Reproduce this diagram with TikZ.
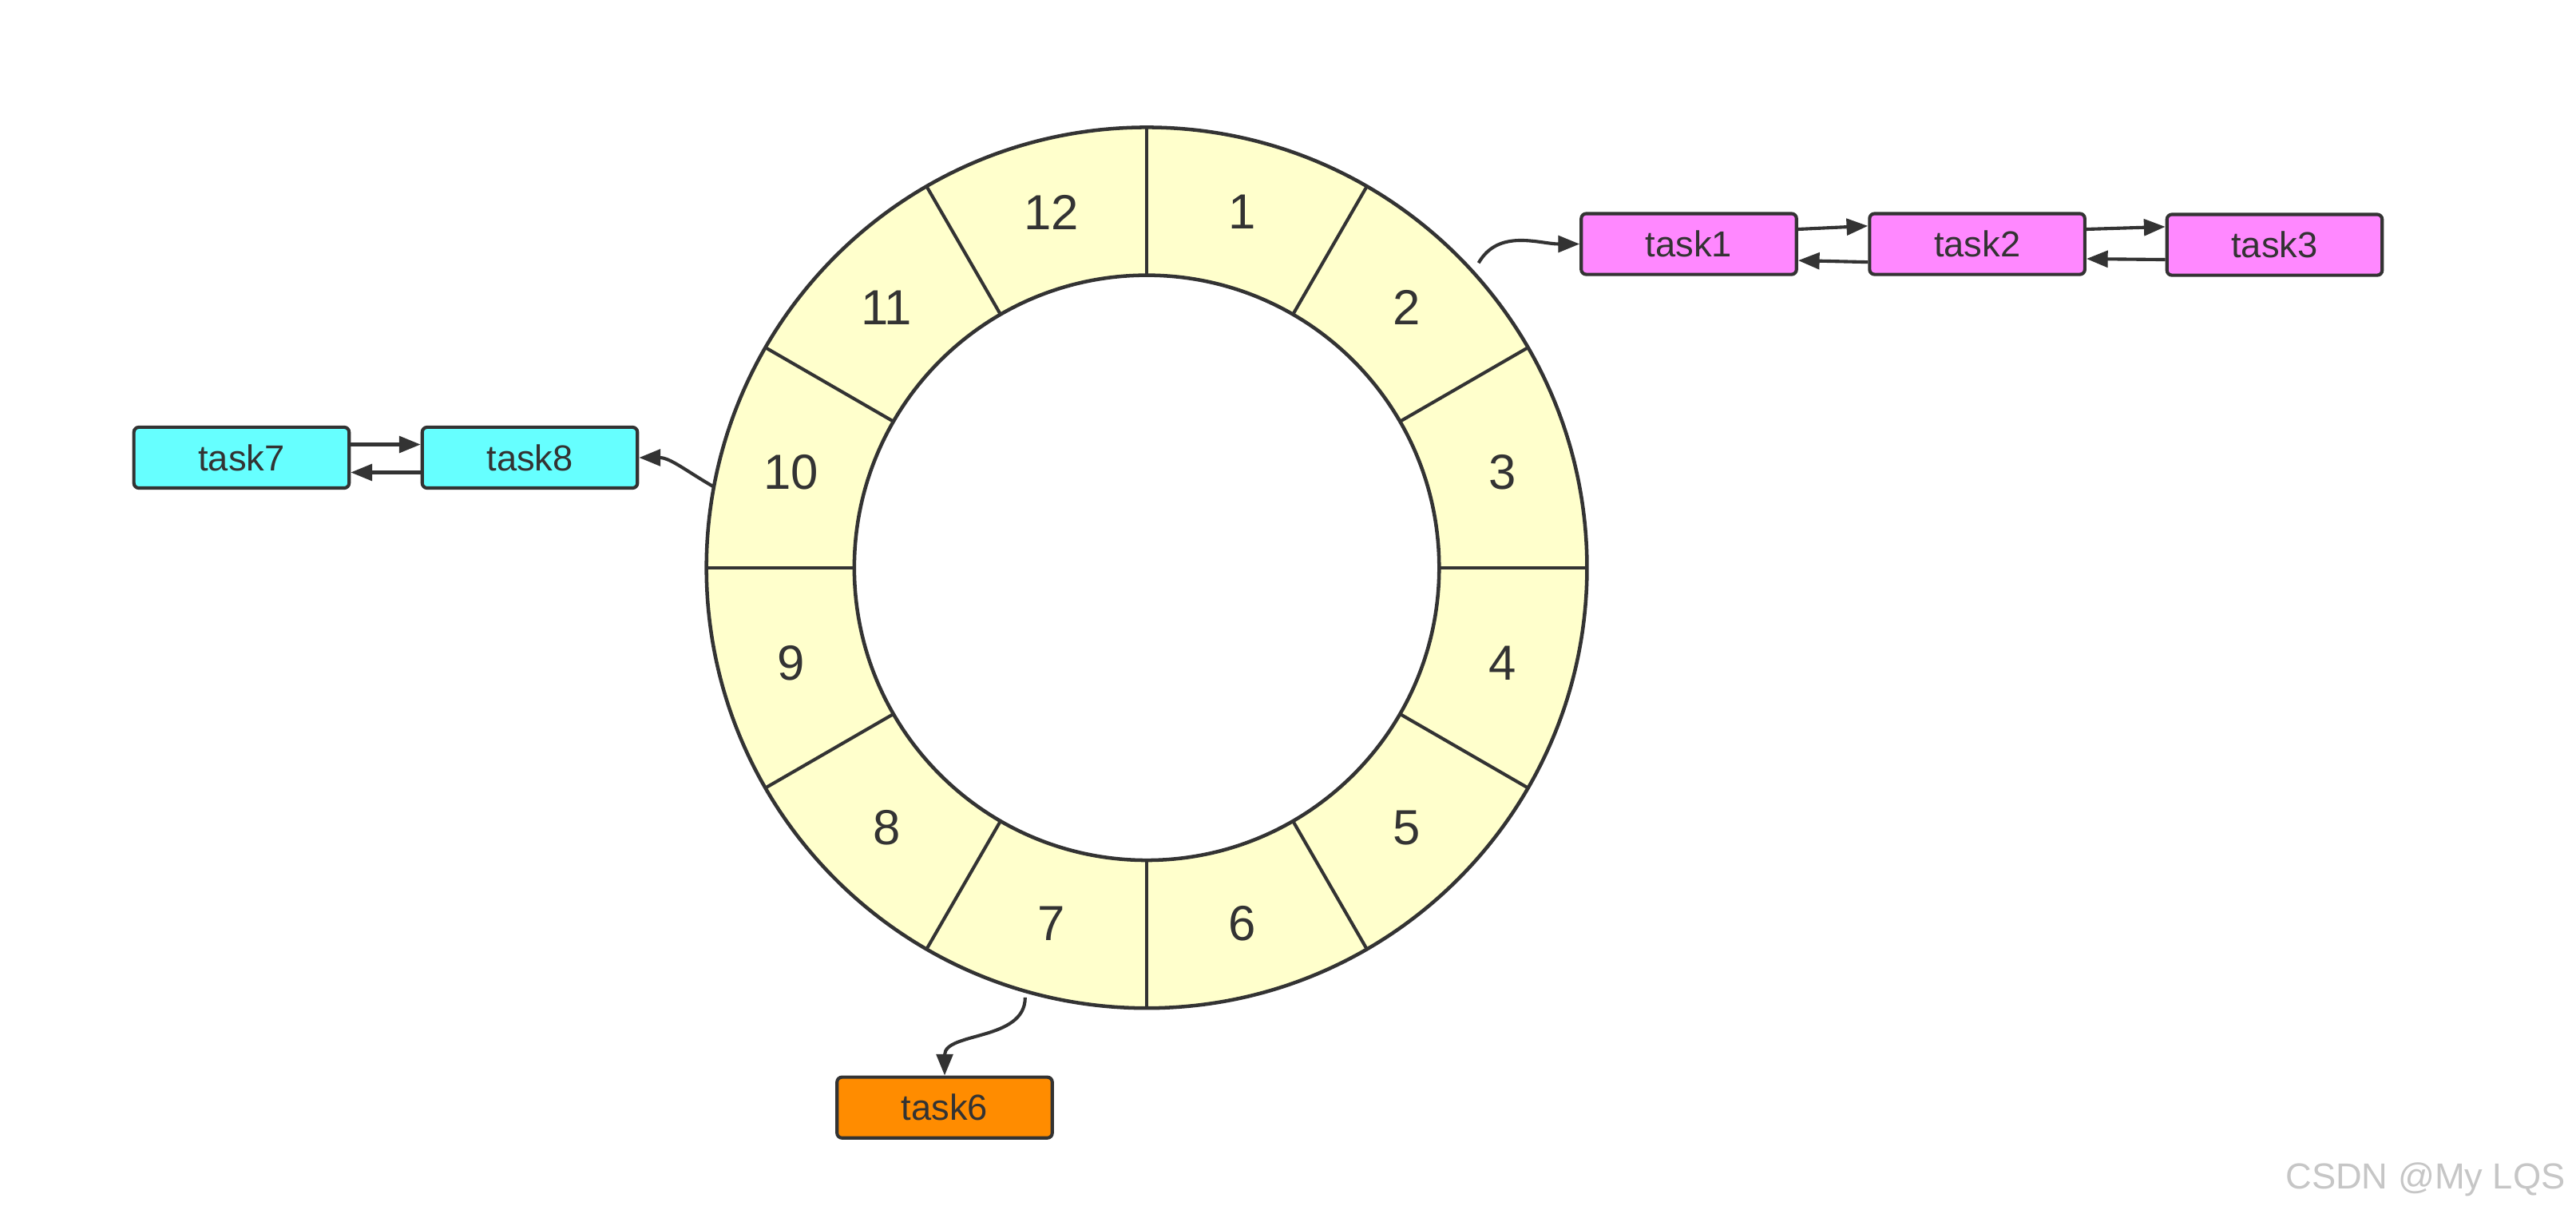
\documentclass[tikz,border=0pt]{standalone}
\usepackage{fontspec}
\setmainfont{Liberation Sans}
\usetikzlibrary{arrows.meta,calc}
\definecolor{ringfill}{HTML}{FFFFCC}
\definecolor{txt}{HTML}{333333}
\definecolor{pinkbox}{HTML}{FF88FF}
\definecolor{cyanbox}{HTML}{66FFFF}
\definecolor{orangebox}{HTML}{FF8C00}
\tikzset{
  taskbox/.style={draw=txt, line width=2pt, rounded corners=3pt, minimum width=131pt, minimum height=37pt, inner sep=0pt, text=txt, font=\fontsize{22}{24}\selectfont},
  conn/.style={draw=txt, line width=2pt, -{Triangle[length=13pt,width=10pt]}},
  num/.style={text=txt, font=\fontsize{30}{32}\selectfont}
}
\begin{document}
\begin{tikzpicture}[x=1pt,y=-1pt]
\useasboundingbox (0,0) rectangle (1568,746);
\coordinate (c) at (698,345.5);
% ring
\fill[ringfill, even odd rule] (c) circle[radius=268] (c) circle[radius=178];
\foreach \a in {0,30,...,330}{
  \draw[txt, line width=2pt] ($(c)+(\a:178pt)$) -- ($(c)+(\a:268pt)$);
}
\draw[txt, line width=2.2pt] (c) circle[radius=268];
\draw[txt, line width=2.2pt] (c) circle[radius=178];
\foreach \n [evaluate=\n as \ang using {90-30*\n+15}] in {1,...,12}{
  \node[num] (n\n) at ($(c)+(\ang:224pt)$) {\n};
}
% tasks
\node[taskbox, fill=pinkbox] (t1) at (1028,148.5) {task1};
\node[taskbox, fill=pinkbox] (t2) at (1203.5,148.5) {task2};
\node[taskbox, fill=pinkbox] (t3) at (1384.5,149) {task3};
\node[taskbox, fill=cyanbox] (t7) at (147,278.5) {task7};
\node[taskbox, fill=cyanbox] (t8) at (322.5,278.5) {task8};
\node[taskbox, fill=orangebox] (t6) at (575,674) {task6};
% connectors
\coordinate (s2) at (900,160);
\coordinate (s10) at (434,296);
\coordinate (s7) at (624,607);
\draw[conn] (s2) to[out=60,in=180] (t1.west);
\draw[conn] (s10) to[out=150,in=0] (t8.east);
\draw[conn] (s7) to[out=-90,in=90] (t6.north);
\draw[conn] ([yshift=9pt]t1.east) -- ([yshift=11pt]t2.west);
\draw[conn] ([yshift=-11pt]t2.west) -- ([yshift=-10pt]t1.east);
\draw[conn] ([yshift=9pt]t2.east) -- ([yshift=11pt]t3.west);
\draw[conn] ([yshift=-9pt]t3.west) -- ([yshift=-9pt]t2.east);
\draw[conn] ([yshift=8pt]t7.east) -- ([yshift=8pt]t8.west);
\draw[conn] ([yshift=-9pt]t8.west) -- ([yshift=-9pt]t7.east);
\node[text=gray!45, font=\fontsize{22}{24}\selectfont, anchor=east] (wm) at (1565,718) {CSDN @My LQS};
\end{tikzpicture}
\end{document}
